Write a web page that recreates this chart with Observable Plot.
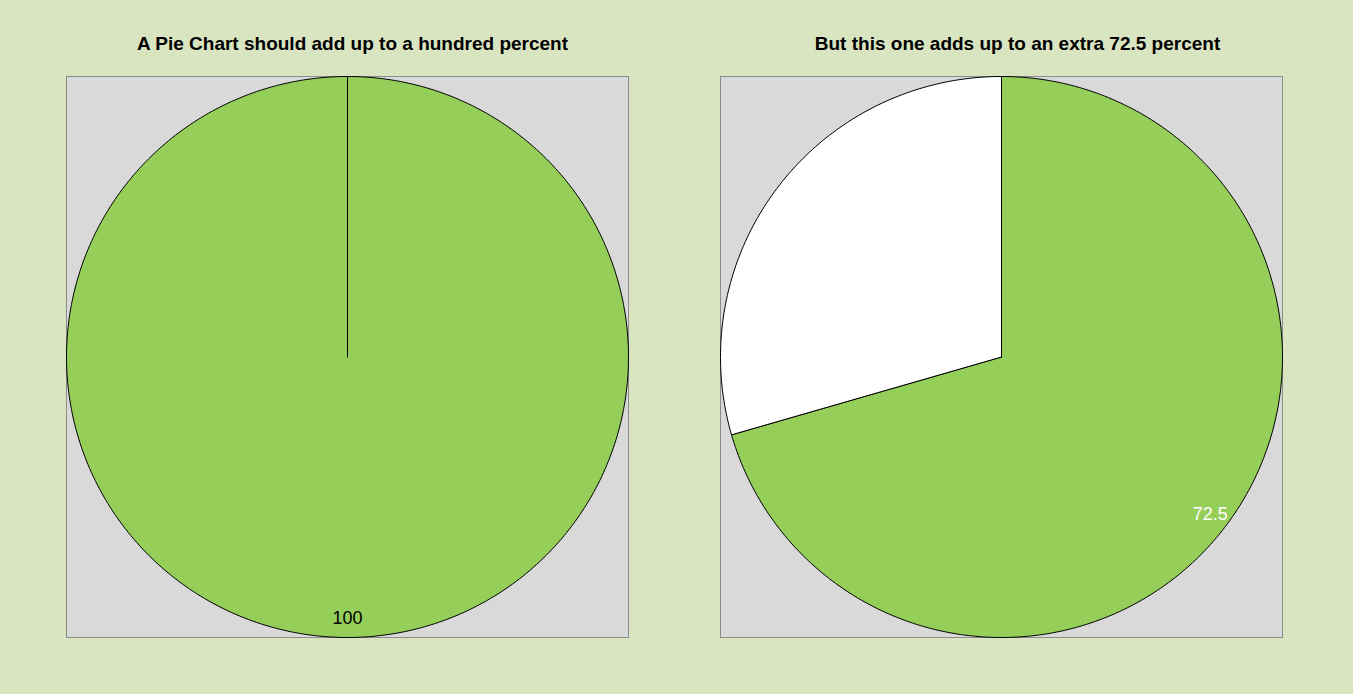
<!DOCTYPE html>
<html><head><meta charset="utf-8">
<script src="https://cdn.jsdelivr.net/npm/d3@7"></script>
<script src="https://cdn.jsdelivr.net/npm/@observablehq/plot@0.6"></script>
<style>
html,body{margin:0;padding:0;background:#d9e4c0;}
#chart svg{display:block;background:#d9e4c0;}
</style>
</head><body><div id="chart"></div>
<script>
// ---- data ----
const panels = [
  "A Pie Chart should add up to a hundred percent",
  "But this one adds up to an extra 72.5 percent"
];
const leftValues = [100];
const leftLabels = ["100"];
const leftColors = ["#95cf5a"];
const rightValues = [72.5, 30.3];
const rightLabels = ["72.5", ""];
const rightColors = ["#95cf5a", "#ffffff"];
const labelColors = ["#000000", "#ffffff"];

// ---- build slices (angles clockwise from top) ----
const pies = [
  {panel: panels[0], values: leftValues, labels: leftLabels, colors: leftColors, labelColor: labelColors[0]},
  {panel: panels[1], values: rightValues, labels: rightLabels, colors: rightColors, labelColor: labelColors[1]}
];
const slicePts = [];
const labelRows = [];
pies.forEach((p, pi) => {
  const total = d3.sum(p.values);
  let acc = 0;
  p.values.forEach((v, i) => {
    const a0 = acc / total * 2 * Math.PI;
    acc += v;
    const a1 = acc / total * 2 * Math.PI;
    const id = pi + "-" + i;
    slicePts.push({panel: p.panel, id, fill: p.colors[i], x: 0, y: 0});
    const n = Math.max(2, Math.ceil((a1 - a0) / (2 * Math.PI) * 400));
    for (let k = 0; k <= n; k++) {
      const a = a0 + (a1 - a0) * k / n;
      slicePts.push({panel: p.panel, id, fill: p.colors[i], x: Math.sin(a), y: Math.cos(a)});
    }
    slicePts.push({panel: p.panel, id, fill: p.colors[i], x: 0, y: 0});
    if (p.labels[i]) {
      const am = (a0 + a1) / 2;
      labelRows.push({panel: p.panel, text: p.labels[i], color: p.labelColor, x: 0.93 * Math.sin(am), y: 0.93 * Math.cos(am)});
    }
  });
});
const titleRows = panels.map(t => ({panel: t, text: t}));

const chart = Plot.plot({
  width: 1353,
  height: 694,
  marginTop: 76,
  marginBottom: 57,
  marginLeft: 66,
  marginRight: 71,
  style: {background: "#d9e4c0", fontFamily: "'Liberation Sans', Arial, sans-serif"},
  fx: {domain: panels, paddingInner: 0.1407, paddingOuter: 0, axis: null},
  x: {domain: [-1, 1], axis: null},
  y: {domain: [-1, 1], axis: null},
  color: {type: "identity"},
  marks: [
    Plot.frame({fill: "#d9d9d9", stroke: "#8c8c8c", strokeWidth: 1}),
    Plot.line(slicePts, {x: "x", y: "y", fx: "panel", z: "id", fill: "fill", stroke: "#000", strokeWidth: 1, curve: "linear", strokeLinejoin: "miter"}),
    Plot.text(labelRows, {x: "x", y: "y", fx: "panel", text: "text", fill: "color", fontSize: 18}),
    Plot.text(titleRows.filter(d => d.panel === panels[0]), {fx: "panel", text: "text", frameAnchor: "top", lineAnchor: "middle", dy: -33, dx: 5, fontSize: 19, fontWeight: "bold", fill: "#000"}),
    Plot.text(titleRows.filter(d => d.panel === panels[1]), {fx: "panel", text: "text", frameAnchor: "top", lineAnchor: "middle", dy: -33, dx: 16, fontSize: 19, fontWeight: "bold", fill: "#000"})
  ]
});
document.getElementById("chart").appendChild(chart);
</script>
</body></html>
